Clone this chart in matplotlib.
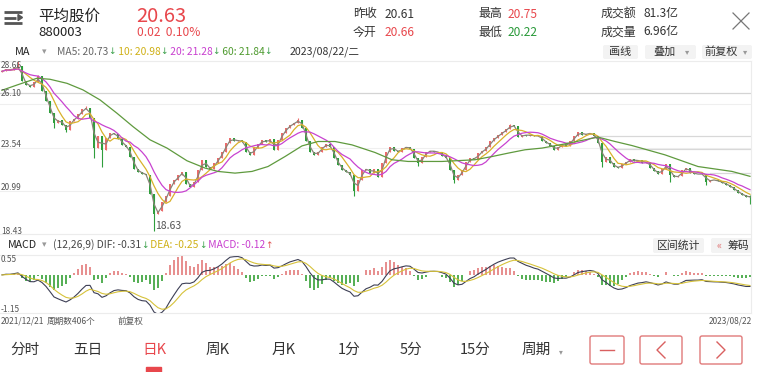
import numpy as np
import pandas as pd
import matplotlib
matplotlib.use('Agg')
import matplotlib.pyplot as plt
from matplotlib.patches import Rectangle, FancyBboxPatch, Polygon

plt.rcParams['font.family'] = ['Noto Sans CJK SC', 'DejaVu Sans']

W, H = 760, 372
DAYS = 406

# closing prices (one candle per ~2 trading days)
closes = [
    28.05, 28.20, 28.10, 28.25, 28.35, 27.45, 27.25, 27.15, 27.40, 27.75,
    26.90, 26.30, 25.60, 25.00, 25.20, 24.90, 24.60, 25.10, 25.25, 25.50,
    25.80, 25.90, 25.30, 23.50, 24.20, 23.40, 24.10, 24.40, 24.35, 24.05,
    23.70, 23.60, 23.00, 22.30, 22.10, 22.00, 21.90, 20.80, 19.60, 19.80,
    20.30, 20.70, 21.40, 21.60, 21.90, 22.10, 21.40, 21.20, 21.50, 22.20,
    22.80, 22.40, 22.25, 22.60, 22.90, 23.30, 23.80, 24.10, 23.90, 24.00,
    23.85, 23.30, 23.10, 23.50, 23.75, 24.00, 23.85, 24.05, 23.40, 24.00,
    24.40, 24.70, 24.90, 25.00, 25.20, 24.70, 23.90, 23.30, 23.10, 23.30,
    23.60, 23.75, 23.55, 22.90, 22.50, 22.20, 22.10, 21.90, 21.00, 21.60,
    22.20, 22.30, 22.05, 22.25, 21.80, 22.60, 23.30, 23.60, 23.35, 23.30,
    23.50, 23.60, 23.45, 22.90, 22.60, 23.00, 23.30, 23.35, 23.30, 23.25,
    23.05, 22.90, 22.20, 21.60, 21.90, 22.20, 22.70, 22.90, 22.85, 23.20,
    23.35, 23.55, 23.90, 24.10, 24.30, 24.45, 24.65, 24.85, 24.80, 24.15,
    24.30, 24.25, 24.30, 24.20, 24.25, 23.95, 23.80, 23.65, 23.40, 23.60,
    23.75, 23.65, 23.90, 24.20, 24.45, 24.30, 24.35, 24.40, 24.20, 23.80,
    22.70, 23.00, 22.60, 22.40, 22.35, 22.55, 22.70, 22.85, 22.75, 22.80,
    22.65, 22.70, 22.35, 22.15, 21.95, 22.30, 22.55, 21.90, 21.80, 21.85,
    22.20, 22.35, 22.05, 22.00, 21.95, 22.00, 21.50, 21.65, 21.60, 21.55,
    21.45, 21.35, 21.20, 21.05, 20.85, 20.75, 20.61, 20.63,
]
first_open = 28.00
today_open = 20.66

# long shadows visible on the chart
long_lows = {13: 24.70, 16: 24.45, 23: 22.95, 25: 22.40, 38: 18.63, 88: 20.65,
             104: 22.45, 113: 21.45, 150: 22.40, 167: 21.50, 176: 21.30, 187: 20.22}
long_highs = {4: 28.66, 9: 27.85, 21: 26.00, 74: 25.30, 127: 24.95, 187: 20.75}

# MA60 (candle index, value)
ma60_idx = [0, 3.75, 8.75, 12, 16.25, 20.25, 24.5, 28.75, 32.75, 37, 41.25, 46.25,
            50.75, 54, 58.25, 62.5, 66.5, 70.75, 75, 79, 83.25, 87.5, 93.25, 97.5,
            101.5, 110, 118.25, 122.5, 126.5, 130.75, 135, 140.75, 149, 153.25,
            157.5, 165.75, 174, 182.5, 187]
ma60_val = [26.93, 27.24, 27.64, 27.58, 27.34, 26.95, 26.36, 25.57, 24.78, 24.00,
            23.51, 22.76, 22.33, 22.13, 22.03, 22.13, 22.42, 23.01, 23.64, 23.90,
            23.90, 23.70, 23.25, 22.82, 22.72, 22.72, 22.82, 23.01, 23.21, 23.41,
            23.51, 23.76, 24.16, 23.90, 23.66, 23.11, 22.42, 22.13, 21.84]

price_ticks = [28.66, 26.10, 23.54, 20.99, 18.43]
grid_prices = [26.10, 23.54, 20.99]
macd_labels = ['0.55', '-1.15']
tabs = ['分时', '五日', '日K', '周K', '月K', '1分', '5分', '15分', '周期']
tab_x = [10, 73, 142, 206, 272, 338, 400, 460, 522]

RED = '#e8474c'
CANDLE_RED = '#ec6b6b'
CANDLE_GREEN = '#2f9e3c'
GREEN = '#2a9a3a'
ARROW_DN = '#3aa04a'
ARROW_UP = '#e05050'
MA_COLORS = {'MA5': '#8a8478', 'MA10': '#d9b12b', 'MA20': '#c843d0', 'MA60': '#5f9a3e'}

fig = plt.figure(figsize=(W / 100, H / 100), dpi=100)
fig.patch.set_facecolor('white')


def px_axes(x0, y0, x1, y1):
    ax = fig.add_axes([x0 / W, 1 - y1 / H, (x1 - x0) / W, (y1 - y0) / H])
    ax.axis('off')
    ax.patch.set_alpha(0)
    return ax


n = len(closes)
idx = np.arange(n)
c = np.array(closes)
o = np.r_[first_open, c[:-1]]
o[-1] = today_open
lo = np.minimum(o, c)
hi = np.maximum(o, c)
lows = lo.copy()
highs = hi.copy()
for k, v in long_lows.items():
    lows[k] = v
for k, v in long_highs.items():
    highs[k] = v
up = c >= o

# ---- price panel ----
ax = px_axes(0, 61, 751, 234)
ax.set_xlim(-0.5, n - 0.75)
ax.set_ylim(18.43, 28.66)
for g in grid_prices:
    ax.axhline(g, color='#efefef', lw=0.8, zorder=0)
ax.axhline(26.74, color='#d4d4d4', lw=0.9, zorder=0)
ax.plot([148, n], [24.23, 24.23], color='#d8d8d8', lw=0.9, zorder=0)
ax.plot([149.5, n], [23.47, 23.47], color='#d8d8d8', lw=0.9, zorder=0)
ax.plot([177, n], [22.05, 22.05], color='#d8d8d8', lw=0.9, zorder=0)

colors = np.where(up, CANDLE_RED, CANDLE_GREEN)
ax.vlines(idx, lows, highs, colors=colors, lw=0.8, zorder=2)
ax.bar(idx, np.maximum(hi - lo, 0.04), bottom=lo, width=0.6, color=colors,
       linewidth=0, zorder=3)

s = pd.Series(closes)
step = DAYS / n
for name, days in [('MA5', 5), ('MA10', 10), ('MA20', 20)]:
    win = max(1, int(round(days / step)))
    ax.plot(idx, s.rolling(win, min_periods=1).mean(), color=MA_COLORS[name],
            lw=0.9, zorder=4)
ax.plot(ma60_idx, ma60_val, color=MA_COLORS['MA60'], lw=0.9, zorder=4)

ax.text(38.3, 18.63, '18.63', fontsize=7.5, color='#555555', va='bottom', ha='left')

# ---- MACD panel ----
mx = px_axes(0, 255, 751, 313)
mx.set_xlim(-0.5, n - 0.75)
mx.set_ylim(-1.15, 0.60)

# each candle stands for ~2 sessions; the aggregated series is smoother than
# daily data, so the EMAs use a slightly shorter step to keep the amplitude
macd_step = 1.8


def day_alpha(span):
    return 1 - (1 - 2 / (span + 1)) ** macd_step


dif = s.ewm(alpha=day_alpha(12), adjust=False).mean() - s.ewm(alpha=day_alpha(26), adjust=False).mean()
dea = dif.ewm(alpha=day_alpha(9), adjust=False).mean()
hist = 2 * (dif - dea)
mx.vlines(idx, 0, hist, colors=np.where(hist >= 0, '#e58585', '#45a845'), lw=1.3)
mx.plot(idx, dif, color='#3d3f55', lw=0.8)
mx.plot(idx, dea, color='#d6c23a', lw=0.8)

# ---- UI overlay ----
ui = fig.add_axes([0, 0, 1, 1])
ui.set_xlim(0, W)
ui.set_ylim(H, 0)
ui.axis('off')
ui.patch.set_alpha(0)
renderer = fig.canvas.get_renderer()


def txt(x, y, s_, size, color='#333333', ha='left', **kw):
    return ui.text(x, y, s_, fontsize=size, color=color, ha=ha, va='center', **kw)


def seq(x, y, parts, size):
    # draw text pieces one after another
    for piece, col in parts:
        fam = ['DejaVu Sans'] if piece in ('↓', '↑') else None
        t = txt(x, y, piece, size if fam is None else size - 1, col, family=fam)
        x += t.get_window_extent(renderer=renderer).width


def button(x0, y0, x1, y1, face='#f3f3f3', edge='none', lw=0.0, r=2):
    ui.add_patch(FancyBboxPatch((x0, y0), x1 - x0, y1 - y0,
                                boxstyle='round,pad=0,rounding_size=%d' % r,
                                facecolor=face, edgecolor=edge, lw=lw))


# panel borders
ui.plot([0, 751], [61, 61], color='#ececec', lw=0.8)
ui.plot([0, 751], [234, 234], color='#ececec', lw=0.8)
ui.plot([751, 751], [61, 313], color='#ececec', lw=0.8)
ui.plot([0, 751], [255, 255], color='#ececec', lw=0.8)
ui.plot([0, 751], [313, 313], color='#ececec', lw=0.8)

# hamburger icon
for yy, xe in [(12, 22), (17.5, 16), (23, 22)]:
    ui.plot([4, xe], [yy, yy], color='#555555', lw=2.0, solid_capstyle='butt')
ui.add_patch(Polygon([[18, 14.5], [18, 20.5], [22.5, 17.5]], color='#555555'))

txt(38, 16, '平均股价', 11.2, '#222222')
txt(38, 32, '880003', 9.5, '#222222')
txt(136, 16, '20.63', 14.5, RED)
txt(137, 32, '0.02  0.10%', 8.6, RED)

txt(353, 14, '昨收', 8.6)
txt(385, 14, '20.61', 8.6)
txt(353, 32, '今开', 8.6)
txt(385, 32, '20.66', 8.6, RED)
txt(478, 14, '最高', 8.6)
txt(508, 14, '20.75', 8.6, RED)
txt(478, 32, '最低', 8.6)
txt(508, 32, '20.22', 8.6, GREEN)
txt(601, 14, '成交额', 8.6)
txt(643, 14, '81.3亿', 8.6)
txt(601, 32, '成交量', 8.6)
txt(643, 32, '6.96亿', 8.6)
ui.plot([733, 749], [13, 29], color='#777777', lw=0.9)
ui.plot([733, 749], [29, 13], color='#777777', lw=0.9)

# MA legend row
txt(15, 52, 'MA', 7.8, '#222222')
txt(42, 52, '▾', 6.5, '#999999')
seq(57, 52, [('MA5: 20.73', '#666666'), ('↓', ARROW_DN),
             (' 10: 20.98', '#cfb016'), ('↓', ARROW_DN),
             (' 20: 21.28', '#c83fcf'), ('↓', ARROW_DN),
             (' 60: 21.84', '#4e9a2e'), ('↓', ARROW_DN)], 7.4)
txt(290, 52, '2023/08/22/二', 7.6, '#333333')

button(603, 45, 638, 59)
txt(620.5, 52, '画线', 8.0, ha='center')
button(645, 45, 696, 59)
txt(664, 52, '叠加', 8.0, ha='center')
txt(687, 52, '▾', 6.0, '#999999', ha='center')
button(702, 45, 752, 59)
txt(721, 52, '前复权', 8.0, ha='center')
txt(745, 52, '▾', 6.0, '#999999', ha='center')

# price labels
label_y = [66, 94, 144.5, 188, 231]
for p, yy in zip(price_ticks, label_y):
    txt(1, yy, '%.2f' % p, 6.0, '#555555')

# MACD row
txt(8, 245, 'MACD', 7.6, '#222222')
txt(42, 245, '▾', 6.5, '#999999')
seq(53, 245, [('(12,26,9) DIF: -0.31', '#444444'), ('↓', ARROW_DN),
              (' DEA: -0.25', '#cfb016'), ('↓', ARROW_DN),
              (' MACD: -0.12', '#c83fcf'), ('↑', ARROW_UP)], 7.4)
button(653, 238, 704, 253)
txt(678.5, 245.5, '区间统计', 7.8, ha='center')
button(711, 238, 752, 253)
txt(719, 245.5, '«', 7.5, '#e07070', ha='center')
txt(738, 245.5, '筹码', 7.8, ha='center')

txt(1, 259, macd_labels[0], 6.0, '#555555')
txt(1, 310, macd_labels[1], 6.0, '#555555')

txt(1, 321, '2021/12/21', 6.0, '#555555')
txt(47, 321, '周期数406个', 6.2, '#555555')
txt(118, 321, '前复权', 6.2, '#555555')
txt(752, 321, '2023/08/22', 6.0, '#555555', ha='right')

# period tabs
for t, xx in zip(tabs, tab_x):
    col = RED if t == '日K' else '#333333'
    txt(xx, 350, t, 10.5, col)
txt(559, 352, '▾', 5.5, '#999999')
ui.add_patch(Rectangle((146, 367), 15, 5, color=RED))

for x0, x1 in [(590, 624), (640, 682), (700, 742)]:
    button(x0, 336, x1, 364, face='white', edge='#e07a7a', lw=1.0)
ui.plot([600, 614], [350, 350], color='#d96060', lw=1.0)
ui.plot([665, 657, 665], [342, 350, 358], color='#d96060', lw=1.0)
ui.plot([717, 725, 717], [342, 350, 358], color='#d96060', lw=1.0)

fig.savefig('out.png', dpi=100, facecolor='white')
